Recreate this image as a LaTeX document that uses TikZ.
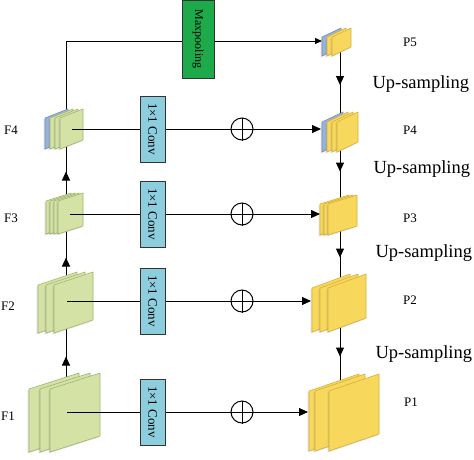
\documentclass[tikz,border=0pt]{standalone}
\usepackage{fontspec}
\setmainfont{Liberation Serif}
\usepackage{graphicx}
\usetikzlibrary{arrows.meta,decorations.markings,shadows}

\definecolor{mapgreen}{RGB}{212,226,166}
\definecolor{mapgreenedge}{RGB}{160,180,112}
\definecolor{mapyellow}{RGB}{248,216,92}
\definecolor{mapyellowedge}{RGB}{214,176,58}
\definecolor{mapblue}{RGB}{150,178,222}
\definecolor{convblue}{RGB}{141,206,222}
\definecolor{poolgreen}{RGB}{30,170,75}

% sheets of one feature map: lefts, top-left y, width, height, rise, fill, edge
\newcommand{\featmap}[7]{%
  \foreach \sx in {#1} {%
    \filldraw[fill=#6, draw=#7, line width=0.6pt, drop shadow={shadow xshift=-1.5pt, shadow yshift=-1.5pt, opacity=0.25}] (\sx,#2) -- ++(#3,-#5) -- ++(0,#4) -- ++(-#3,#5) -- cycle;
  }%
}

\begin{document}
\begin{tikzpicture}[x=1pt, y=-1pt, line width=1pt, >={Triangle[length=9pt,width=8pt]},
  convbox/.style={draw=black!80, fill=convblue, minimum width=25pt, minimum height=66pt, inner sep=0pt, font=\fontsize{13}{14}\selectfont},
  poolbox/.style={draw=black!80, fill=poolgreen, minimum width=32pt, minimum height=78pt, inner sep=0pt, font=\fontsize{12}{13}\selectfont},
  addnode/.style={draw, circle, minimum size=22pt, inner sep=0pt},
  lbl/.style={font=\fontsize{13}{14}\selectfont, anchor=base, inner sep=0pt},
  uplbl/.style={font=\fontsize{18.5}{20}\selectfont, anchor=base west, inner sep=0pt},
  midarrow/.style={postaction={decorate}, decoration={markings, mark=at position 0.5 with {\arrow{Triangle[length=9pt,width=8pt]}}}}]
	\useasboundingbox (0,0) rectangle (474,459);
	% anchor points
	\coordinate (f4) at (66,129);
	\coordinate (f3) at (66,214);
	\coordinate (f2) at (66,301);
	\coordinate (f1) at (66,412);
	\coordinate (corner) at (66,41);
	\coordinate (p5) at (340,41);
	\coordinate (p4) at (340,129);
	\coordinate (p3) at (340,214);
	\coordinate (p2) at (340,301);
	\coordinate (p1) at (340,412);
	\coordinate (p5in) at (322,41);
	\coordinate (p4in) at (321,129);
	\coordinate (p3in) at (320,214);
	\coordinate (p2in) at (311,301);
	\coordinate (p1in) at (308,412);
	\coordinate (f4out) at (72,129);
	\coordinate (f3out) at (70,214);
	\coordinate (f2out) at (67,301);
	\coordinate (f1out) at (67,412);
	% boxes
	\node[poolbox] (pool) at (198,39) {\rotatebox{-90}{Maxpooling}};
	\node[convbox] (c4) at (152.5,129) {\rotatebox{-90}{1×1 Conv}};
	\node[convbox] (c3) at (152.5,214) {\rotatebox{-90}{1×1 Conv}};
	\node[convbox] (c2) at (152.5,301) {\rotatebox{-90}{1×1 Conv}};
	\node[convbox] (c1) at (152.5,412) {\rotatebox{-90}{1×1 Conv}};
	\node[addnode] (s4) at (242,129) {};
	\node[addnode] (s3) at (242,214) {};
	\node[addnode] (s2) at (242,301) {};
	\node[addnode] (s1) at (242,412) {};
	\draw (s4.north) -- (s4.south) (s4.west) -- (s4.east);
	\draw (s3.north) -- (s3.south) (s3.west) -- (s3.east);
	\draw (s2.north) -- (s2.south) (s2.west) -- (s2.east);
	\draw (s1.north) -- (s1.south) (s1.west) -- (s1.east);
	% bottom-up and top-down paths
	\draw[midarrow] (f1) -- (f2);
	\draw[midarrow] (f2) -- (f3);
	\draw[midarrow] (f3) -- (f4);
	\draw (f4) -- (corner) -- (corner -| pool.west);
	\draw[-{Triangle[length=7pt,width=6pt]}] (corner -| pool.east) -- (p5in);
	\draw[midarrow] (p5) -- (p4);
	\draw[midarrow] (p4) -- (p3);
	\draw[midarrow] (p3) -- (p2);
	\draw[midarrow] (p2) -- (p1);
	% feature maps
	\featmap{45}{118}{23}{31}{9}{mapblue}{mapblue!80!black}
	\featmap{50,55,60}{118}{23}{31}{9}{mapgreen}{mapgreenedge}
	\featmap{46,50,54,58}{201}{25}{33}{8}{mapgreen}{mapgreenedge}
	\featmap{38,46,54}{285}{39}{48}{13}{mapgreen}{mapgreenedge}
	\featmap{29,40,50}{389}{50}{63}{16}{mapgreen}{mapgreenedge}
	\featmap{322}{37}{19}{19}{9}{mapblue}{mapblue!80!black}
	\featmap{327,332}{37}{19}{19}{9}{mapyellow}{mapyellowedge}
	\featmap{322}{122}{21}{30}{10}{mapblue}{mapblue!80!black}
	\featmap{327,332,337}{122}{21}{30}{10}{mapyellow}{mapyellowedge}
	\featmap{320,324,328}{204}{29}{31}{9}{mapyellow}{mapyellowedge}
	\featmap{312,320,328}{288}{38}{44}{14}{mapyellow}{mapyellowedge}
	\featmap{309,315,329}{391}{50}{60}{17}{mapyellow}{mapyellowedge}
	% lateral connections
	\draw (f4out) -- (c4);
	\draw (c4) -- (s4);
	\draw[->] (s4) -- (p4in);
	\draw (f3out) -- (c3);
	\draw (c3) -- (s3);
	\draw[->] (s3) -- (p3in);
	\draw (f2out) -- (c2);
	\draw (c2) -- (s2);
	\draw[->] (s2) -- (p2in);
	\draw (f1out) -- (c1);
	\draw (c1) -- (s1);
	\draw[->] (s1) -- (p1in);
	% labels
	\node[lbl] (lf4) at (11,134) {F4};
	\node[lbl] (lf3) at (11,222) {F3};
	\node[lbl] (lf2) at (8,310) {F2};
	\node[lbl] (lf1) at (8,420) {F1};
	\node[lbl] (lp5) at (410,46) {P5};
	\node[lbl] (lp4) at (410,134) {P4};
	\node[lbl] (lp3) at (410,222) {P3};
	\node[lbl] (lp2) at (410,304) {P2};
	\node[lbl] (lp1) at (411,406) {P1};
	\node[uplbl] (u1) at (372,88) {Up-sampling};
	\node[uplbl] (u2) at (373,173) {Up-sampling};
	\node[uplbl] (u3) at (375,257) {Up-sampling};
	\node[uplbl] (u4) at (375,358) {Up-sampling};
\end{tikzpicture}
\end{document}
